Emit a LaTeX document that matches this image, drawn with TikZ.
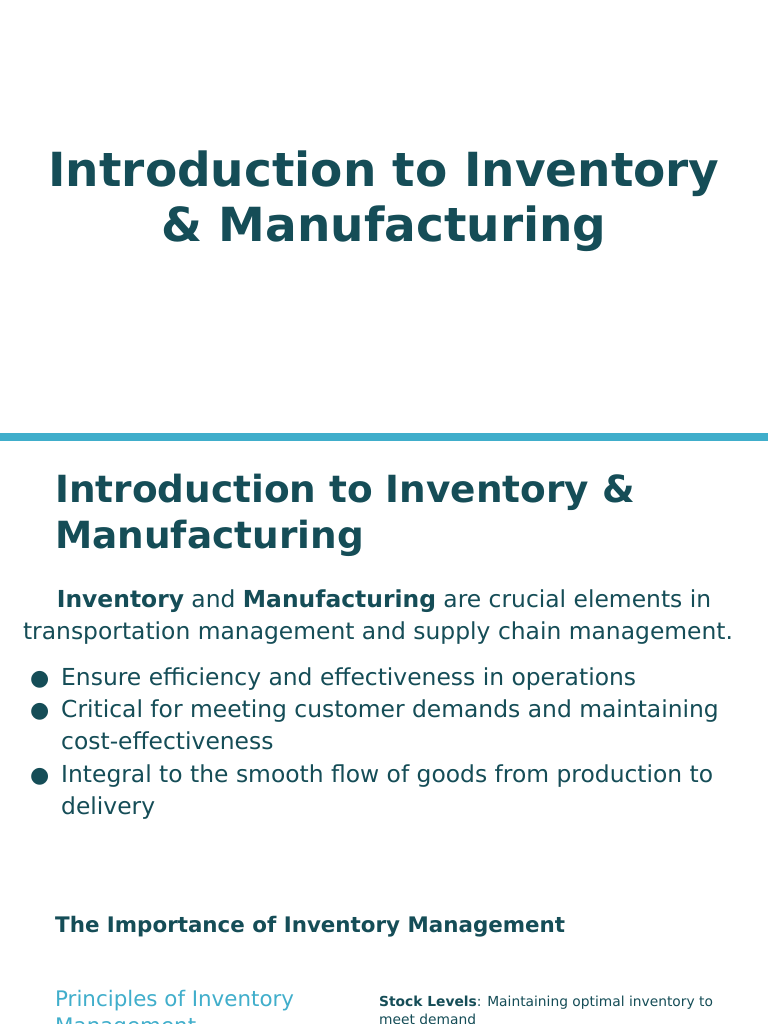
\documentclass[tikz,border=0pt]{standalone}
\usepackage{fontspec}
\setmainfont{DejaVu Sans}
\definecolor{dk}{HTML}{154D57}
\definecolor{lb}{HTML}{40AECB}
\tikzset{t/.style={inner sep=0pt,text=dk,anchor=base west},
 c/.style={inner sep=0pt,text=dk,anchor=base}}
\begin{document}
\begin{tikzpicture}[x=1pt,y=-1pt]
\useasboundingbox (0,0) rectangle (768,1024);
\clip (0,0) rectangle (768,1024);
\fill[white] (0,0) rectangle (768,1024);
\node[c,font=\fontsize{47}{56}\selectfont\bfseries] (t1) at (384,187) {Introduction to Inventory};
\node[c,font=\fontsize{47}{56}\selectfont\bfseries] (t2) at (384,241) {\& Manufacturing};
\fill[lb] (0,433) rectangle (768,441);
\node[t,font=\fontsize{37.4}{44}\selectfont\bfseries] (h1) at (55,502) {Introduction to Inventory \&};
\node[t,font=\fontsize{37.4}{44}\selectfont\bfseries] (h2) at (55,548) {Manufacturing};
\node[c,font=\fontsize{23.4}{28}\selectfont] (p1) at (384,607) {\textbf{Inventory} and \textbf{Manufacturing} are crucial elements in};
\node[c,font=\fontsize{23.4}{28}\selectfont] (p2) at (378,639) {transportation management and supply chain management.};
\foreach \y/\s in {685/Ensure efficiency and effectiveness in operations,717/Critical for meeting customer demands and maintaining,782/Integral to the smooth flow of goods from production to}
 {\node[t,font=\fontsize{22}{28}\selectfont] at (30,\y) {●};
  \node[t,font=\fontsize{23.4}{28}\selectfont] at (61,\y) {\s};}
\node[t,font=\fontsize{23.4}{28}\selectfont] (b2) at (61,749) {cost-effectiveness};
\node[t,font=\fontsize{23.4}{28}\selectfont] (b4) at (61,814) {delivery};
\node[t,font=\fontsize{21.4}{24}\selectfont\bfseries] (imp) at (55,932) {The Importance of Inventory Management};
\node[t,text=lb,font=\fontsize{21.4}{24}\selectfont] (pr1) at (55,1006) {Principles of Inventory};
\node[t,text=lb,font=\fontsize{21.4}{24}\selectfont] (pr2) at (55,1033) {Management};
\node[t,font=\fontsize{13.8}{18}\selectfont] (s1) at (379,1006) {\textbf{Stock Levels}: Maintaining optimal inventory to};
\node[t,font=\fontsize{13.8}{18}\selectfont] (s2) at (379,1024) {meet demand};
\end{tikzpicture}
\end{document}
